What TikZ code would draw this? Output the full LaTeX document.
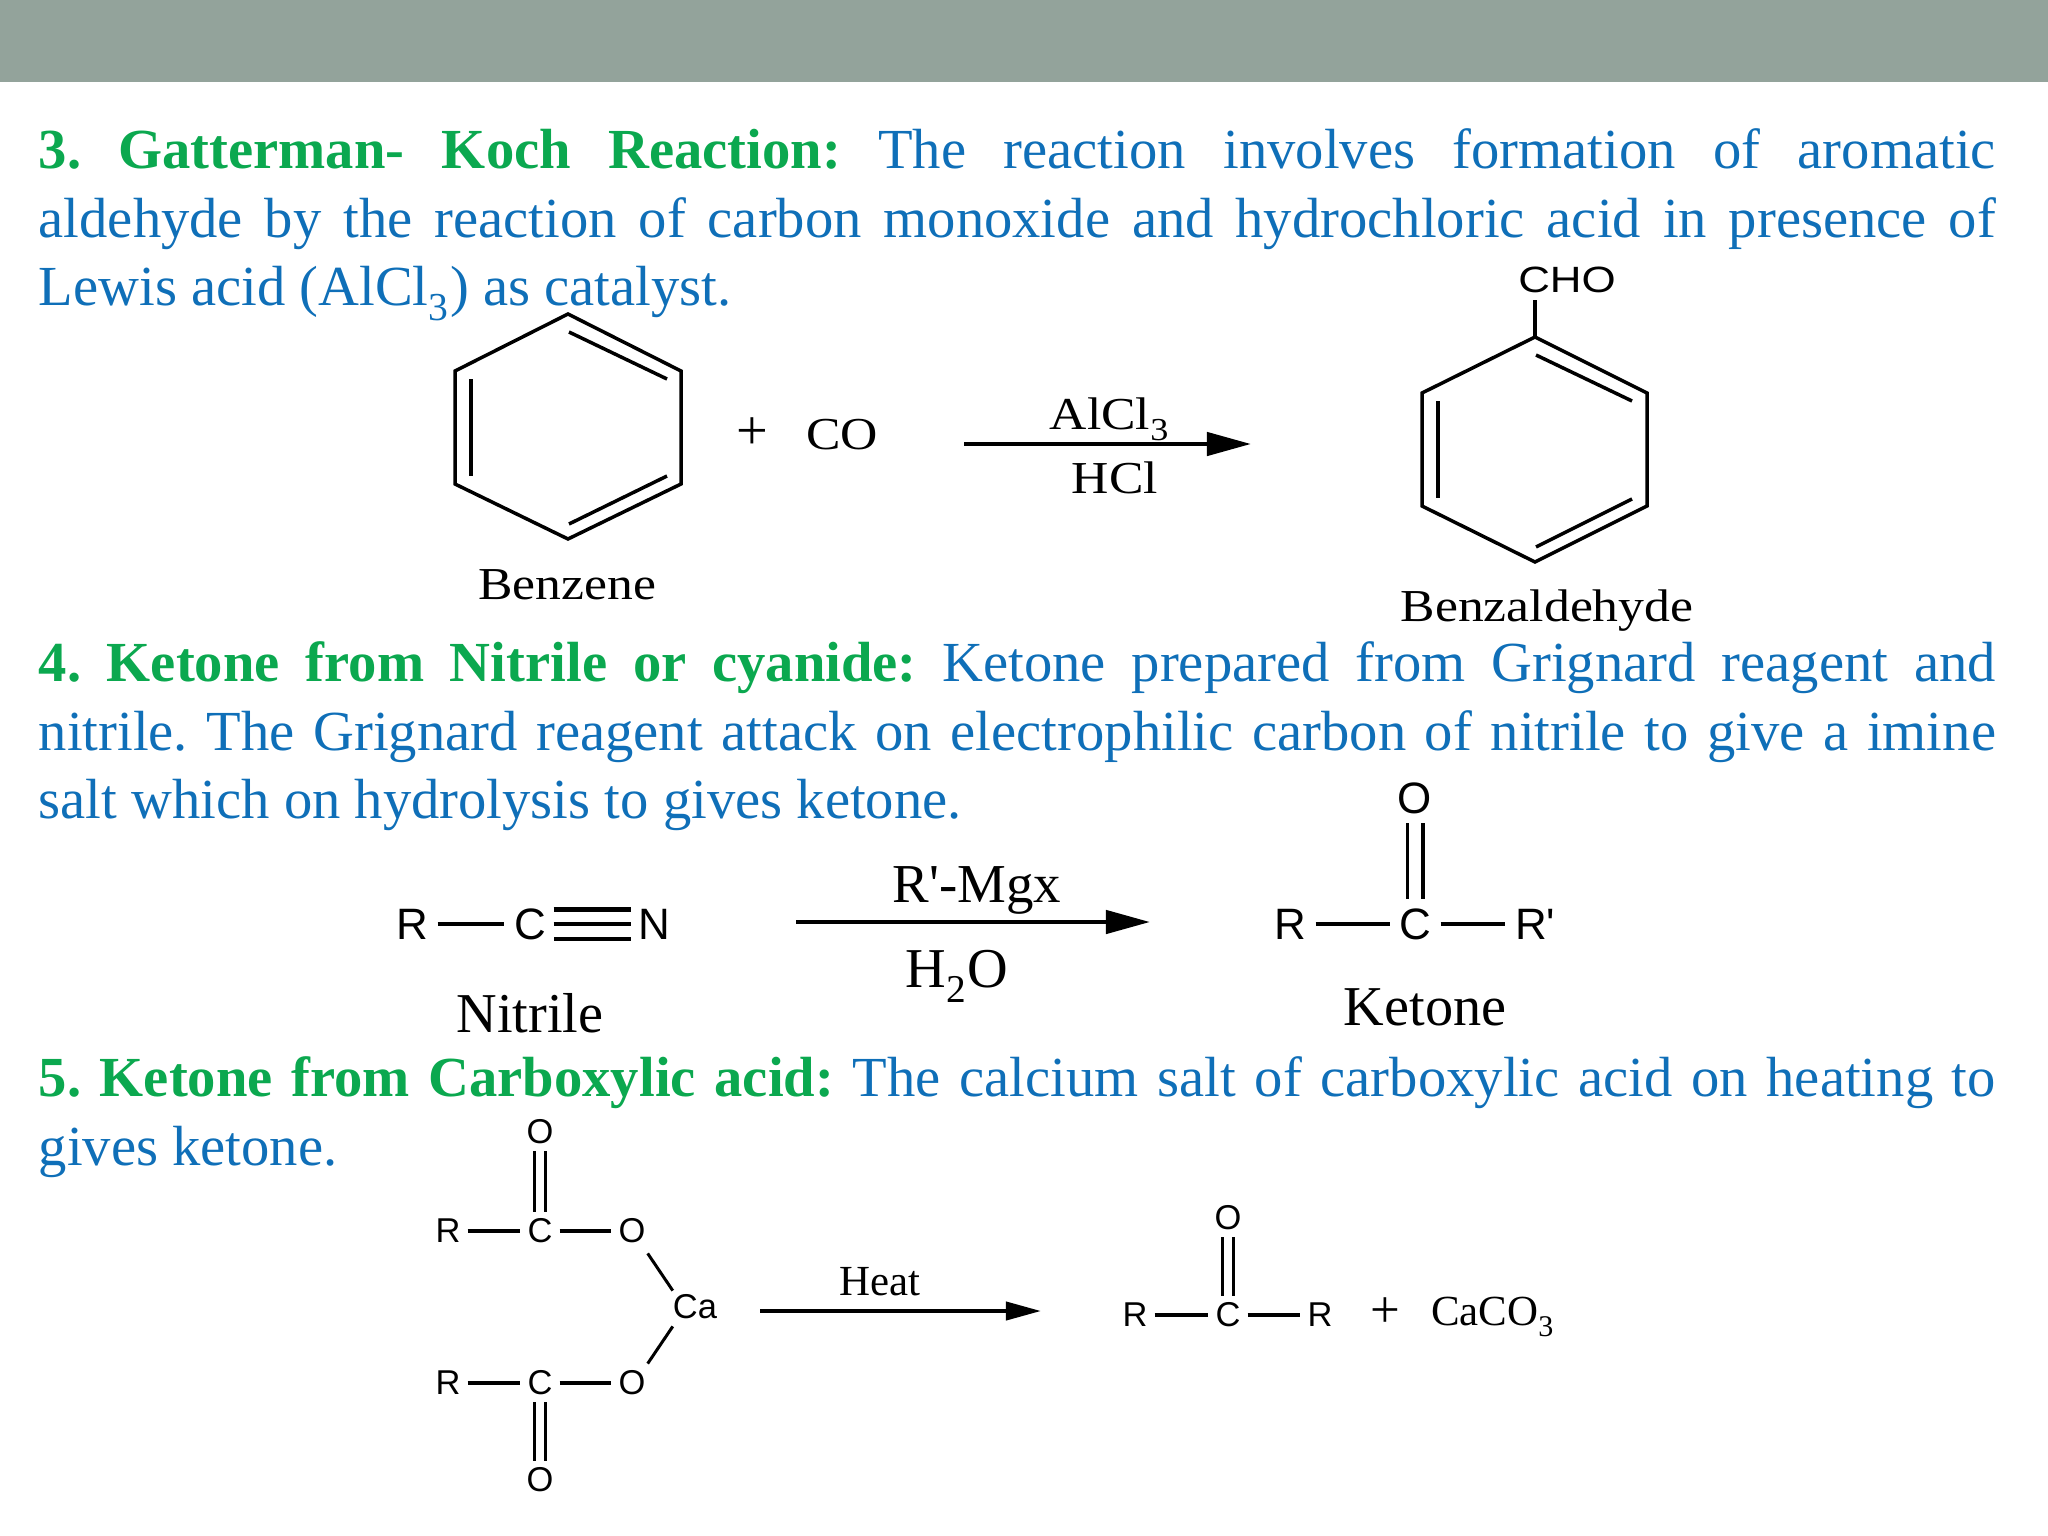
\documentclass[tikz,border=0pt]{standalone}
\usepackage{fontspec}
\setmainfont{Liberation Serif}
\setsansfont{Liberation Sans}
\newfontfamily\widefont[FakeStretch=1.13]{Liberation Serif}
\newfontfamily\widesans[FakeStretch=1.2]{Liberation Sans}
\usetikzlibrary{arrows.meta, positioning}
\definecolor{bannergray}{HTML}{93A39B}
\definecolor{textblue}{HTML}{0F6FB8}
\definecolor{headgreen}{HTML}{0BA84F}
\newcommand{\head}[1]{\textcolor{headgreen}{\textbf{#1}}}
\newcommand{\lowsub}[1]{\raisebox{-0.22ex}{\textsubscript{#1}}}
\tikzstyle{para} = [anchor=north west, inner sep=0pt, text width=19.56cm, align=justify, text=textblue, font=\fontsize{16.1}{19.5}\selectfont\frenchspacing]
\tikzstyle{atom} = [inner sep=0.09cm, font=\sffamily\fontsize{12.5}{14}\selectfont]
\tikzstyle{smallatom} = [inner sep=0.065cm, font=\sffamily\fontsize{9.8}{11}\selectfont]
\tikzstyle{label} = [inner sep=0pt, font=\widefont\fontsize{13}{15}\selectfont]
\tikzstyle{biglabel} = [inner sep=0pt, font=\fontsize{16}{18}\selectfont]
\tikzstyle{ringbond} = [line width=0.035cm, line join=miter]
\tikzstyle{bond} = [line width=0.045cm]
\tikzstyle{smallbond} = [line width=0.04cm]
\tikzstyle{thinbond} = [line width=0.03cm]
\tikzstyle{dbond} = [double, line width=0.035cm, double distance=0.12cm]
\tikzstyle{smalldbond} = [double, line width=0.03cm, double distance=0.08cm]
\tikzstyle{bigarrow} = [line width=0.045cm, -{Stealth[length=0.44cm,width=0.23cm,inset=0pt]}]
\tikzstyle{smallarrow} = [line width=0.04cm, -{Stealth[length=0.35cm,width=0.18cm,inset=0pt]}]
\begin{document}
\begin{tikzpicture}[x=0.01cm,y=-0.01cm]
        \useasboundingbox (0,0) rectangle (2048,1536);
        \fill [bannergray] (0,0) rectangle (2048,82);

        \node (para3) [para] at (38,128) {\head{3. Gatterman- Koch Reaction:} The reaction involves formation of aromatic\linebreak aldehyde by the reaction of carbon monoxide and hydrochloric acid in presence of\linebreak Lewis acid (AlCl\lowsub{3}) as catalyst.};
        \node (para4) [para] at (38,641) {\head{4. Ketone from Nitrile or cyanide:} Ketone prepared from Grignard reagent and\linebreak nitrile. The Grignard reagent attack on electrophilic carbon of nitrile to give a imine\linebreak salt which on hydrolysis to gives ketone.};
        \node (para5) [para] at (38,1056) {\head{5. Ketone from Carboxylic acid:} The calcium salt of carboxylic acid on heating to\linebreak gives ketone.};

        \coordinate (a1) at (568,314);
        \coordinate (a2) at (681,371);
        \coordinate (a3) at (681,484);
        \coordinate (a4) at (568,539);
        \coordinate (a5) at (455,484);
        \coordinate (a6) at (455,371);
        \draw [ringbond] (a1) -- (a2) -- (a3) -- (a4) -- (a5) -- (a6) -- cycle;
        \coordinate (a7) at (569,332);
        \coordinate (a8) at (667,379);
        \draw [ringbond] (a7) -- (a8);
        \coordinate (a9) at (667,476);
        \coordinate (a10) at (569,524);
        \draw [ringbond] (a9) -- (a10);
        \coordinate (a11) at (471,379);
        \coordinate (a12) at (471,476);
        \draw [ringbond] (a11) -- (a12);
        \node (benzene) [label] at (567,585) {Benzene};
        \node (plus1) [label, font=\fontsize{16}{18}\selectfont] at (752,434) {+};
        \node (co) [label] at (842,435) {CO};
        \coordinate (arrow1a) at (964,444);
        \coordinate (arrow1b) at (1251,444);
        \draw [bigarrow] (arrow1a) -- (arrow1b);
        \node (alcl3) [label] at (1110,419) {AlCl\lowsub{3}};
        \node (hcl) [label] at (1115,478) {HCl};

        \coordinate (b1) at (1535,337);
        \coordinate (b2) at (1647,393);
        \coordinate (b3) at (1647,506);
        \coordinate (b4) at (1535,562);
        \coordinate (b5) at (1422,506);
        \coordinate (b6) at (1422,393);
        \draw [ringbond] (b1) -- (b2) -- (b3) -- (b4) -- (b5) -- (b6) -- cycle;
        \coordinate (b7) at (1536,355);
        \coordinate (b8) at (1632,401);
        \draw [ringbond] (b7) -- (b8);
        \coordinate (b9) at (1632,499);
        \coordinate (b10) at (1536,547);
        \draw [ringbond] (b9) -- (b10);
        \coordinate (b11) at (1438,401);
        \coordinate (b12) at (1438,498);
        \draw [ringbond] (b11) -- (b12);
        \node (cho) [smallatom, font=\widesans\fontsize{10.4}{12}\selectfont] at (1567,280) {CHO};
        \draw [ringbond] (b1) -- (b1 |- cho.south);
        \node (benzaldehyde) [label] at (1547,611) {Benzaldehyde};

        \node (r1) [atom] at (412,924) {R};
        \node (c1) [atom, right of=r1, node distance=1.18cm] {C};
        \node (n1) [atom, right of=c1, node distance=1.24cm] {N};
        \draw [bond] (r1) -- (c1);
        \draw [bond, double, double distance=0.25cm, shorten <=-0.02cm, shorten >=-0.02cm] (c1) -- (n1);
        \draw [bond, shorten <=-0.02cm, shorten >=-0.02cm] (c1) -- (n1);
        \node (nitrile) [biglabel] at (530,1013) {Nitrile};
        \coordinate (arrow2a) at (796,922);
        \coordinate (arrow2b) at (1150,922);
        \draw [bigarrow] (arrow2a) -- (arrow2b);
        \node (rmgx) [biglabel, font=\fontsize{15.6}{18}\selectfont] at (977,890) {R\textquotesingle-Mgx};
        \node (h2o) [biglabel] at (957,976) {H\lowsub{2}O};
        \node (r2) [atom] at (1290,924) {R};
        \node (c2) [atom, right of=r2, node distance=1.25cm] {C};
        \node (r3) [atom, right of=c2, node distance=1.2cm] {R\textquotesingle};
        \node (o1) [atom, above of=c2, node distance=1.26cm] {O};
        \draw [bond] (r2) -- (c2);
        \draw [bond] (c2) -- (r3);
        \draw [dbond] (c2) -- (o1);
        \node (ketone) [biglabel] at (1425,1007) {Ketone};

        \node (c3) [smallatom] at (540,1231) {C};
        \node (r4) [smallatom, left of=c3, node distance=0.92cm] {R};
        \node (o2) [smallatom, right of=c3, node distance=0.92cm] {O};
        \node (o3) [smallatom, above of=c3, node distance=0.99cm] {O};
        \draw [smallbond] (r4) -- (c3);
        \draw [smallbond] (c3) -- (o2);
        \draw [smalldbond] (c3) -- (o3);
        \node (ca) [smallatom] at (695,1307) {Ca};
        \node (c4) [smallatom] at (540,1383) {C};
        \node (r5) [smallatom, left of=c4, node distance=0.92cm] {R};
        \node (o4) [smallatom, right of=c4, node distance=0.92cm] {O};
        \node (o5) [smallatom, below of=c4, node distance=0.97cm] {O};
        \draw [smallbond] (r5) -- (c4);
        \draw [smallbond] (c4) -- (o4);
        \draw [smalldbond] (c4) -- (o5);
        \draw [thinbond] ([xshift=-0.05cm,yshift=-0.03cm]o2.south east) -- ([xshift=0.07cm,yshift=-0.03cm]ca.north west);
        \draw [thinbond] ([xshift=0.07cm]ca.south west) -- ([xshift=-0.05cm]o4.north east);
        \coordinate (arrow3a) at (760,1311);
        \coordinate (arrow3b) at (1041,1311);
        \draw [smallarrow] (arrow3a) -- (arrow3b);
        \node (heat) [label, font=\fontsize{12.2}{14}\selectfont] at (880,1282) {Heat};
        \node (c5) [smallatom] at (1228,1315) {C};
        \node (r6) [smallatom, left of=c5, node distance=0.93cm] {R};
        \node (r7) [smallatom, right of=c5, node distance=0.92cm] {R};
        \node (o6) [smallatom, above of=c5, node distance=0.97cm] {O};
        \draw [smallbond] (r6) -- (c5);
        \draw [smallbond] (c5) -- (r7);
        \draw [smalldbond] (c5) -- (o6);
        \node (plus2) [label, font=\fontsize{15}{17}\selectfont] at (1385,1313) {+};
        \node (caco3) [label, font=\fontsize{12.2}{14}\selectfont] at (1493,1317) {CaCO\lowsub{3}};
    \end{tikzpicture}
\end{document}
